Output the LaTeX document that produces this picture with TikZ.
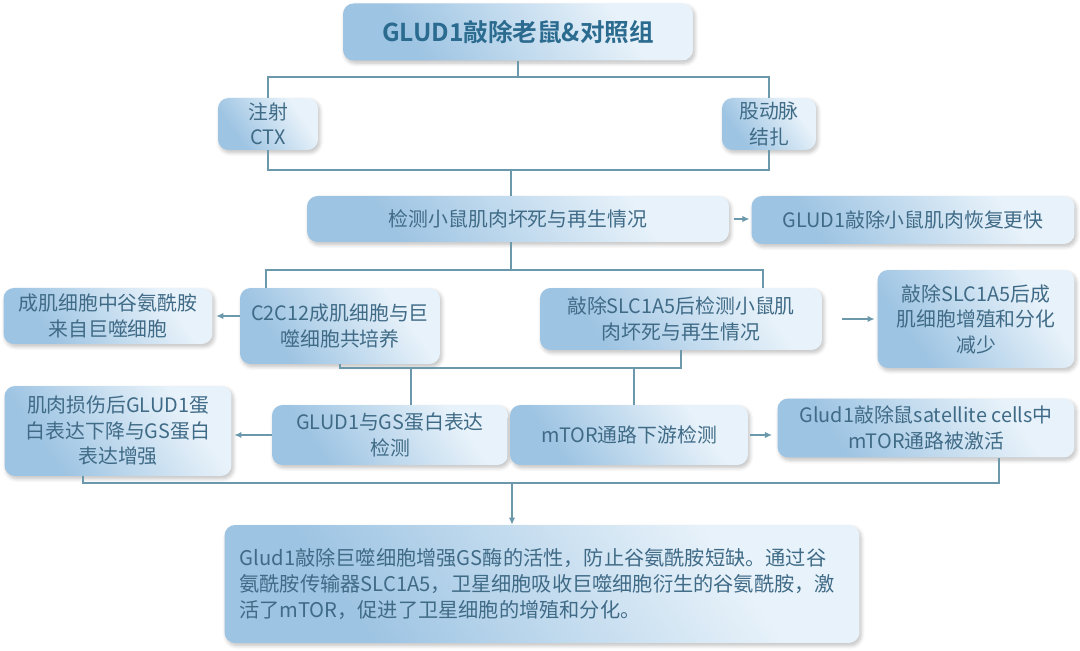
\documentclass[tikz,border=0pt]{standalone}
\usepackage{fontspec}
\setmainfont{Noto Sans CJK SC}[BoldFont={Noto Sans CJK SC Bold}]
\usetikzlibrary{arrows.meta,calc,shadows.blur}
\definecolor{BoxDarkClr}{rgb}{0.62,0.77,0.89}
\definecolor{BoxLightClr}{rgb}{0.91,0.95,0.98}
\definecolor{TextClr}{rgb}{0.25,0.42,0.53}
\definecolor{TitleClr}{rgb}{0.17,0.42,0.56}
\definecolor{LineClr}{rgb}{0.42,0.60,0.67}
\pgfdeclarehorizontalshading{BoxShade}{100bp}{color(0bp)=(BoxDarkClr); color(30bp)=(BoxDarkClr);
  color(70bp)=(BoxLightClr); color(100bp)=(BoxLightClr)}

\begin{document}
\begin{tikzpicture}[x=0.02cm,y=-0.02cm,
  box/.style={rounded corners=6pt,shading=BoxShade,shading angle=35,
    blur shadow={shadow xshift=1pt,shadow yshift=-1.5pt,shadow blur steps=6,shadow opacity=25},
    text=TextClr,align=center,inner sep=0pt,font=\fontsize{11.3}{14.5}\selectfont},
  link/.style={draw=LineClr,line width=0.6pt},
  arr/.style={link,-{Latex[length=4pt,width=3.6pt]}}]
\useasboundingbox (0,0) rectangle (1080,651);

\node[box,minimum width=7cm,minimum height=1.14cm,text=TitleClr,
  font=\bfseries\fontsize{14}{17}\selectfont] (title) at (518,32) {GLUD1敲除老鼠\&对照组};

\node[box,minimum width=2cm,minimum height=1.04cm] (inj) at (268,124) {注射\\CTX};
\node[box,minimum width=1.88cm,minimum height=1.04cm] (lig) at (769,124) {股动脉\\结扎};

\node[box,minimum width=8.44cm,minimum height=0.92cm] (det) at (518,219) {检测小鼠肌肉坏死与再生情况};
\node[box,minimum width=6.46cm,minimum height=0.96cm] (res) at (913,220) {GLUD1敲除小鼠肌肉恢复更快};

\node[box,minimum width=4.18cm,minimum height=1.12cm] (src) at (108,316) {成肌细胞中谷氨酰胺\\来自巨噬细胞};
\node[box,minimum width=4cm,minimum height=1.52cm] (co) at (340,326) {C2C12成肌细胞与巨\\噬细胞共培养};
\node[box,minimum width=5.64cm,minimum height=1.24cm] (slc) at (681,319) {敲除SLC1A5后检测小鼠肌\\肉坏死与再生情况};
\node[box,minimum width=3.94cm,minimum height=1.96cm] (dec) at (976,319) {敲除SLC1A5后成\\肌细胞增殖和分化\\减少};

\node[box,minimum width=4.54cm,minimum height=1.8cm] (dmg) at (118,431) {肌肉损伤后GLUD1蛋\\白表达下降与GS蛋白\\表达增强};
\node[box,minimum width=4.72cm,minimum height=1.2cm] (gs) at (390,435) {GLUD1与GS蛋白表达\\检测};
\node[box,minimum width=4.76cm,minimum height=1.2cm] (mtor) at (629,435) {mTOR通路下游检测};
\node[box,minimum width=5.94cm,minimum height=1.18cm] (sat) at (926,428) {Glud1敲除鼠satellite cells中\\mTOR通路被激活};

\node[box,minimum width=12.7cm,minimum height=2.36cm,text width=12.1cm,align=left,
  font=\fontsize{11.5}{15}\selectfont] (fin) at (542,584)
  {Glud1敲除巨噬细胞增强GS酶的活性，防止谷氨酰胺短缺。通过谷\\
   氨酰胺传输器SLC1A5，卫星细胞吸收巨噬细胞衍生的谷氨酰胺，激\\
   活了mTOR，促进了卫星细胞的增殖和分化。};

\coordinate (t0) at (518,77);
\coordinate (t1) at (511,170);
\coordinate (t2) at (511,270);
\coordinate (b2l) at (266,270);
\coordinate (b2r) at (763,270);
\coordinate (b3) at (0,368);
\coordinate (b3a) at (411,368);
\coordinate (b3b) at (634,368);
\coordinate (b4l) at (83,483);
\coordinate (b4r) at (999,483);
\coordinate (b4m) at (512,483);

\draw[link] (title.south) -- (t0);
\draw[link] (inj.north) -- (inj.north |- t0) -- (lig.north |- t0) -- (lig.north);
\draw[link] (inj.south) -- (inj.south |- t1) -- (lig.south |- t1) -- (lig.south);
\draw[link] (t1) -- (t1 |- det.north);
\draw[arr,shorten <=2.5pt,shorten >=1pt] (det.east) -- (det.east -| res.west);

\draw[link] (t2 |- det.south) -- (t2);
\draw[link] (b2l |- co.north) -- (b2l) -- (b2r) -- (b2r |- slc.north);
\draw[arr,shorten >=2pt] (src.east -| co.west) -- (src.east);
\draw[arr,shorten <=11pt,shorten >=1.5pt] (slc.east) -- (slc.east -| dec.west);

\draw[link] (co.south) -- (co.south |- b3) -- (slc.south |- b3) -- (slc.south);
\draw[link] (b3a) -- (b3a |- gs.north);
\draw[link] (b3b) -- (b3b |- mtor.north);
\draw[arr,shorten >=1.5pt] (gs.west) -- (gs.west -| dmg.east);
\draw[arr,shorten <=1pt,shorten >=3pt] (mtor.east) -- (mtor.east -| sat.west);

\draw[link] (b4l |- dmg.south) -- (b4l) -- (b4r) -- (b4r |- sat.south);
\draw[arr] (b4m) -- (b4m |- fin.north);
\end{tikzpicture}
\end{document}
